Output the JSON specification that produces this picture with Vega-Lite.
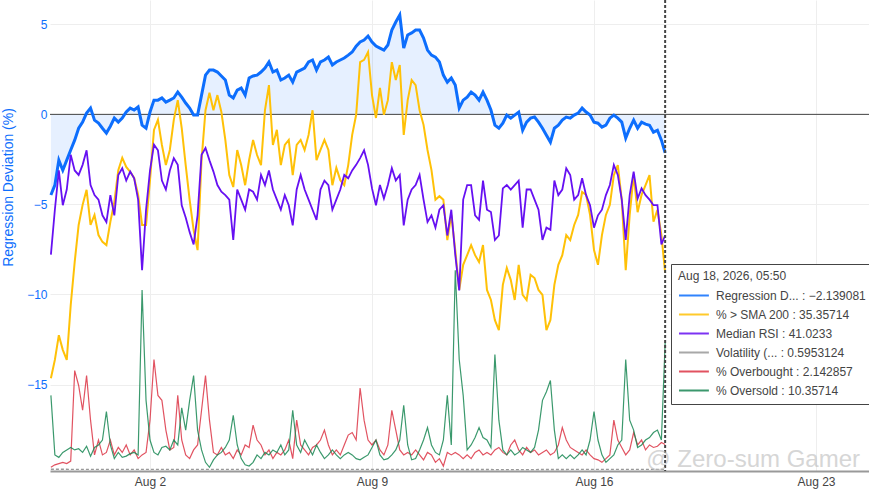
{
"$schema":"https://vega.github.io/schema/vega-lite/v6.json",
"width":819,"height":471,"autosize":{"type":"none"},
"padding":{"left":50,"top":0,"right":0,"bottom":19},
"background":"white",
"config":{"font":"Liberation Sans","view":{"stroke":null}},
"data":{"values":[{"note":"annotations"}]},
"datasets":{
"main":[
{"t":"2026-07-29T21:00","b":-4.48,"s":12.3,"m":39.3,"o":0.3,"u":6.1},
{"t":"2026-07-30T00:00","b":-3.93,"s":16.3,"m":43.3,"o":0.5,"u":1.3},
{"t":"2026-07-30T03:00","b":-2.54,"s":21.7,"m":46.8,"o":0.6,"u":1.1},
{"t":"2026-07-30T06:00","b":-3.1,"s":18.5,"m":43.7,"o":0.7,"u":1.5},
{"t":"2026-07-30T09:00","b":-2.54,"s":16.3,"m":45.1,"o":0.6,"u":1.7},
{"t":"2026-07-30T12:00","b":-1.98,"s":28.3,"m":48.2,"o":0.8,"u":1.9},
{"t":"2026-07-30T15:00","b":-1.43,"s":37.7,"m":46.8,"o":8.1,"u":1.7},
{"t":"2026-07-30T18:00","b":-0.77,"s":45.8,"m":46.4,"o":6.9,"u":1.8},
{"t":"2026-07-30T21:00","b":-0.43,"s":50.2,"m":47.3,"o":4.9,"u":1.5},
{"t":"2026-07-31T00:00","b":0.07,"s":53.5,"m":48.6,"o":7.7,"u":2.0},
{"t":"2026-07-31T03:00","b":0.35,"s":45.8,"m":45.5,"o":4.1,"u":1.2},
{"t":"2026-07-31T06:00","b":-0.32,"s":48.0,"m":44.6,"o":1.3,"u":1.9},
{"t":"2026-07-31T09:00","b":-0.48,"s":43.6,"m":44.2,"o":2.5,"u":2.1},
{"t":"2026-07-31T12:00","b":-0.77,"s":42.1,"m":42.8,"o":1.3,"u":2.5},
{"t":"2026-07-31T15:00","b":-1.04,"s":41.4,"m":42.2,"o":1.5,"u":4.8},
{"t":"2026-07-31T18:00","b":-0.66,"s":46.5,"m":44.6,"o":2.5,"u":2.1},
{"t":"2026-07-31T21:00","b":-0.21,"s":50.8,"m":42.8,"o":1.3,"u":1.0},
{"t":"2026-08-01T00:00","b":-0.43,"s":57.8,"m":46.4,"o":1.9,"u":1.5},
{"t":"2026-08-01T03:00","b":-0.21,"s":60.5,"m":47.0,"o":1.5,"u":1.1},
{"t":"2026-08-01T06:00","b":0.13,"s":58.5,"m":45.9,"o":2.1,"u":1.2},
{"t":"2026-08-01T09:00","b":0.35,"s":57.4,"m":46.7,"o":1.3,"u":1.4},
{"t":"2026-08-01T12:00","b":0.24,"s":56.1,"m":46.1,"o":1.7,"u":1.5},
{"t":"2026-08-01T15:00","b":0.41,"s":52.4,"m":44.2,"o":1.0,"u":1.3},
{"t":"2026-08-01T18:00","b":-0.6,"s":45.8,"m":37.9,"o":1.3,"u":14.6},
{"t":"2026-08-01T21:00","b":-0.77,"s":45.8,"m":43.3,"o":1.5,"u":5.7},
{"t":"2026-08-02T00:00","b":0.13,"s":55.6,"m":46.8,"o":4.1,"u":2.5},
{"t":"2026-08-02T03:00","b":0.79,"s":66.6,"m":49.1,"o":9.0,"u":1.5},
{"t":"2026-08-02T06:00","b":0.79,"s":68.8,"m":48.6,"o":6.1,"u":1.3},
{"t":"2026-08-02T09:00","b":0.91,"s":63.3,"m":45.9,"o":5.7,"u":1.9},
{"t":"2026-08-02T12:00","b":0.68,"s":58.9,"m":45.1,"o":3.3,"u":2.0},
{"t":"2026-08-02T15:00","b":0.79,"s":62.2,"m":46.8,"o":1.7,"u":1.7},
{"t":"2026-08-02T18:00","b":0.91,"s":68.8,"m":47.9,"o":1.9,"u":2.5},
{"t":"2026-08-02T21:00","b":1.24,"s":73.1,"m":47.3,"o":6.1,"u":2.1},
{"t":"2026-08-03T00:00","b":0.96,"s":67.0,"m":43.7,"o":2.5,"u":5.1},
{"t":"2026-08-03T03:00","b":0.63,"s":58.9,"m":42.6,"o":1.3,"u":3.3},
{"t":"2026-08-03T06:00","b":0.35,"s":51.3,"m":41.3,"o":1.0,"u":5.7},
{"t":"2026-08-03T09:00","b":-0.04,"s":44.7,"m":40.2,"o":1.7,"u":7.7},
{"t":"2026-08-03T12:00","b":-0.04,"s":40.3,"m":42.8,"o":2.1,"u":3.3},
{"t":"2026-08-03T15:00","b":1.07,"s":60.0,"m":48.2,"o":4.9,"u":1.7},
{"t":"2026-08-03T18:00","b":2.18,"s":70.9,"m":48.8,"o":7.7,"u":0.7},
{"t":"2026-08-03T21:00","b":2.46,"s":74.7,"m":47.7,"o":4.1,"u":0.3},
{"t":"2026-08-04T00:00","b":2.46,"s":70.9,"m":46.7,"o":1.5,"u":0.9},
{"t":"2026-08-04T03:00","b":2.35,"s":74.2,"m":45.5,"o":1.3,"u":1.3},
{"t":"2026-08-04T06:00","b":2.13,"s":70.5,"m":44.9,"o":1.9,"u":1.5},
{"t":"2026-08-04T09:00","b":1.91,"s":64.4,"m":44.6,"o":1.3,"u":1.9},
{"t":"2026-08-04T12:00","b":1.07,"s":56.7,"m":44.2,"o":1.5,"u":2.5},
{"t":"2026-08-04T15:00","b":0.91,"s":54.1,"m":40.6,"o":1.0,"u":4.5},
{"t":"2026-08-04T18:00","b":1.35,"s":62.2,"m":45.1,"o":1.7,"u":2.1},
{"t":"2026-08-04T21:00","b":1.46,"s":58.9,"m":44.2,"o":1.3,"u":1.0},
{"t":"2026-08-05T00:00","b":1.07,"s":54.5,"m":43.3,"o":2.1,"u":0.5},
{"t":"2026-08-05T03:00","b":2.02,"s":60.0,"m":45.1,"o":1.9,"u":0.4},
{"t":"2026-08-05T06:00","b":2.13,"s":64.4,"m":44.9,"o":3.7,"u":0.7},
{"t":"2026-08-05T09:00","b":2.18,"s":61.1,"m":44.2,"o":2.5,"u":1.3},
{"t":"2026-08-05T12:00","b":2.35,"s":58.9,"m":46.4,"o":2.1,"u":1.0},
{"t":"2026-08-05T15:00","b":2.57,"s":70.9,"m":45.5,"o":1.3,"u":1.5},
{"t":"2026-08-05T18:00","b":2.91,"s":76.4,"m":46.8,"o":1.7,"u":1.3},
{"t":"2026-08-05T21:00","b":2.35,"s":63.3,"m":45.1,"o":1.0,"u":1.7},
{"t":"2026-08-06T00:00","b":2.46,"s":66.6,"m":44.2,"o":1.5,"u":1.5},
{"t":"2026-08-06T03:00","b":1.91,"s":58.9,"m":43.3,"o":1.3,"u":2.1},
{"t":"2026-08-06T06:00","b":2.02,"s":63.3,"m":44.6,"o":1.7,"u":1.3},
{"t":"2026-08-06T09:00","b":2.18,"s":64.4,"m":43.7,"o":2.5,"u":1.7},
{"t":"2026-08-06T12:00","b":1.79,"s":56.7,"m":41.9,"o":1.0,"u":4.9},
{"t":"2026-08-06T15:00","b":2.35,"s":63.3,"m":45.1,"o":4.1,"u":2.1},
{"t":"2026-08-06T18:00","b":2.46,"s":64.4,"m":46.4,"o":2.1,"u":1.5},
{"t":"2026-08-06T21:00","b":2.57,"s":62.2,"m":45.1,"o":1.7,"u":2.5},
{"t":"2026-08-07T00:00","b":2.91,"s":65.5,"m":44.2,"o":1.3,"u":1.9},
{"t":"2026-08-07T03:00","b":3.02,"s":70.9,"m":43.3,"o":1.9,"u":1.3},
{"t":"2026-08-07T06:00","b":2.46,"s":60.0,"m":42.4,"o":2.1,"u":2.1},
{"t":"2026-08-07T09:00","b":2.91,"s":62.2,"m":45.1,"o":2.5,"u":1.5},
{"t":"2026-08-07T12:00","b":3.02,"s":64.4,"m":45.9,"o":3.3,"u":1.0},
{"t":"2026-08-07T15:00","b":3.18,"s":62.2,"m":45.5,"o":2.1,"u":1.3},
{"t":"2026-08-07T18:00","b":2.74,"s":54.5,"m":43.3,"o":1.3,"u":1.7},
{"t":"2026-08-07T21:00","b":2.91,"s":58.3,"m":44.2,"o":1.7,"u":1.3},
{"t":"2026-08-08T00:00","b":3.02,"s":55.6,"m":45.1,"o":1.3,"u":1.0},
{"t":"2026-08-08T03:00","b":3.13,"s":54.5,"m":46.4,"o":2.1,"u":1.3},
{"t":"2026-08-08T06:00","b":3.29,"s":58.9,"m":46.1,"o":2.9,"u":1.5},
{"t":"2026-08-08T09:00","b":3.46,"s":65.5,"m":46.8,"o":3.1,"u":1.3},
{"t":"2026-08-08T12:00","b":3.79,"s":69.9,"m":47.3,"o":2.5,"u":1.0},
{"t":"2026-08-08T15:00","b":4.02,"s":81.4,"m":47.9,"o":6.7,"u":0.9},
{"t":"2026-08-08T18:00","b":4.13,"s":81.9,"m":48.6,"o":4.1,"u":1.1},
{"t":"2026-08-08T21:00","b":4.35,"s":83.6,"m":47.3,"o":2.5,"u":1.3},
{"t":"2026-08-09T00:00","b":4.02,"s":74.2,"m":45.2,"o":2.1,"u":1.9},
{"t":"2026-08-09T03:00","b":3.79,"s":69.2,"m":43.7,"o":2.5,"u":2.5},
{"t":"2026-08-09T06:00","b":3.68,"s":75.8,"m":45.5,"o":1.7,"u":1.3},
{"t":"2026-08-09T09:00","b":3.57,"s":69.9,"m":44.3,"o":1.3,"u":0.9},
{"t":"2026-08-09T12:00","b":3.85,"s":73.1,"m":45.5,"o":2.1,"u":1.0},
{"t":"2026-08-09T15:00","b":4.68,"s":81.4,"m":47.0,"o":4.9,"u":1.3},
{"t":"2026-08-09T18:00","b":5.13,"s":77.5,"m":45.9,"o":3.3,"u":1.7},
{"t":"2026-08-09T21:00","b":5.52,"s":80.8,"m":46.4,"o":1.7,"u":2.5},
{"t":"2026-08-10T00:00","b":3.68,"s":65.5,"m":41.9,"o":1.3,"u":5.3},
{"t":"2026-08-10T03:00","b":4.41,"s":73.1,"m":44.2,"o":1.5,"u":2.1},
{"t":"2026-08-10T06:00","b":4.52,"s":77.5,"m":45.1,"o":1.3,"u":0.9},
{"t":"2026-08-10T09:00","b":4.68,"s":76.4,"m":45.5,"o":1.7,"u":1.0},
{"t":"2026-08-10T12:00","b":4.68,"s":70.9,"m":46.4,"o":1.3,"u":1.7},
{"t":"2026-08-10T15:00","b":4.24,"s":67.7,"m":44.2,"o":0.9,"u":2.5},
{"t":"2026-08-10T18:00","b":3.57,"s":62.2,"m":42.2,"o":1.5,"u":3.5},
{"t":"2026-08-10T21:00","b":3.29,"s":57.8,"m":42.8,"o":1.3,"u":2.1},
{"t":"2026-08-11T00:00","b":3.18,"s":51.3,"m":41.7,"o":0.7,"u":1.5},
{"t":"2026-08-11T03:00","b":2.91,"s":52.1,"m":43.3,"o":1.0,"u":1.3},
{"t":"2026-08-11T06:00","b":2.18,"s":51.3,"m":43.7,"o":0.4,"u":2.5},
{"t":"2026-08-11T09:00","b":1.79,"s":42.5,"m":41.0,"o":1.5,"u":6.1},
{"t":"2026-08-11T12:00","b":2.02,"s":48.0,"m":43.3,"o":1.3,"u":2.1},
{"t":"2026-08-11T15:00","b":1.63,"s":40.3,"m":39.3,"o":1.5,"u":16.2},
{"t":"2026-08-11T18:00","b":0.35,"s":31.6,"m":36.1,"o":1.3,"u":9.0},
{"t":"2026-08-11T21:00","b":0.79,"s":37.1,"m":44.2,"o":1.0,"u":6.1},
{"t":"2026-08-12T00:00","b":0.96,"s":39.2,"m":45.5,"o":1.3,"u":1.7},
{"t":"2026-08-12T03:00","b":1.24,"s":41.4,"m":45.5,"o":1.0,"u":2.1},
{"t":"2026-08-12T06:00","b":1.07,"s":39.2,"m":42.8,"o":1.5,"u":2.7},
{"t":"2026-08-12T09:00","b":0.79,"s":37.7,"m":42.4,"o":1.7,"u":3.5},
{"t":"2026-08-12T12:00","b":1.24,"s":41.4,"m":45.9,"o":1.3,"u":2.7},
{"t":"2026-08-12T15:00","b":0.79,"s":31.6,"m":43.3,"o":1.5,"u":2.5},
{"t":"2026-08-12T18:00","b":0.24,"s":29.4,"m":43.1,"o":1.3,"u":1.9},
{"t":"2026-08-12T21:00","b":-0.6,"s":25.0,"m":40.6,"o":1.7,"u":9.4},
{"t":"2026-08-13T00:00","b":-0.77,"s":22.8,"m":41.0,"o":1.9,"u":4.1},
{"t":"2026-08-13T03:00","b":-0.49,"s":32.7,"m":45.2,"o":1.5,"u":1.7},
{"t":"2026-08-13T06:00","b":-0.04,"s":36.4,"m":45.5,"o":1.3,"u":1.3},
{"t":"2026-08-13T09:00","b":-0.21,"s":33.8,"m":45.1,"o":2.1,"u":1.7},
{"t":"2026-08-13T12:00","b":-0.04,"s":29.4,"m":45.5,"o":2.5,"u":1.3},
{"t":"2026-08-13T15:00","b":0.13,"s":37.1,"m":45.9,"o":1.7,"u":1.5},
{"t":"2026-08-13T18:00","b":-0.88,"s":30.5,"m":41.7,"o":1.3,"u":1.9},
{"t":"2026-08-13T21:00","b":-0.43,"s":29.4,"m":45.1,"o":1.9,"u":1.7},
{"t":"2026-08-14T00:00","b":-0.21,"s":34.9,"m":45.1,"o":1.5,"u":1.5},
{"t":"2026-08-14T03:00","b":-0.15,"s":34.2,"m":44.2,"o":1.7,"u":1.9},
{"t":"2026-08-14T06:00","b":-0.43,"s":31.6,"m":43.3,"o":1.3,"u":3.3},
{"t":"2026-08-14T09:00","b":-0.77,"s":30.5,"m":40.6,"o":1.5,"u":5.7},
{"t":"2026-08-14T12:00","b":-1.16,"s":22.8,"m":41.7,"o":1.7,"u":6.4},
{"t":"2026-08-14T15:00","b":-1.54,"s":25.0,"m":41.5,"o":1.3,"u":7.3},
{"t":"2026-08-14T18:00","b":-0.77,"s":32.7,"m":45.9,"o":1.5,"u":3.3},
{"t":"2026-08-14T21:00","b":-0.6,"s":37.1,"m":44.6,"o":2.1,"u":1.0},
{"t":"2026-08-15T00:00","b":-0.32,"s":39.2,"m":45.1,"o":3.5,"u":1.3},
{"t":"2026-08-15T03:00","b":-0.15,"s":43.6,"m":47.0,"o":2.5,"u":1.0},
{"t":"2026-08-15T06:00","b":-0.21,"s":42.5,"m":46.4,"o":1.9,"u":1.3},
{"t":"2026-08-15T09:00","b":-0.04,"s":45.8,"m":44.2,"o":1.7,"u":1.0},
{"t":"2026-08-15T12:00","b":0.07,"s":48.0,"m":44.6,"o":1.5,"u":1.3},
{"t":"2026-08-15T15:00","b":0.35,"s":53.0,"m":46.1,"o":1.3,"u":1.7},
{"t":"2026-08-15T18:00","b":0.13,"s":52.4,"m":44.6,"o":1.7,"u":1.3},
{"t":"2026-08-15T21:00","b":-0.04,"s":48.0,"m":43.7,"o":1.3,"u":2.5},
{"t":"2026-08-16T00:00","b":-0.43,"s":40.3,"m":41.7,"o":1.0,"u":4.8},
{"t":"2026-08-16T03:00","b":-0.49,"s":37.1,"m":42.8,"o":0.9,"u":2.5},
{"t":"2026-08-16T06:00","b":-0.71,"s":43.6,"m":43.3,"o":0.7,"u":1.3},
{"t":"2026-08-16T09:00","b":-0.6,"s":48.0,"m":44.6,"o":1.0,"u":0.7},
{"t":"2026-08-16T12:00","b":-0.21,"s":50.2,"m":45.5,"o":1.3,"u":1.0},
{"t":"2026-08-16T15:00","b":-0.04,"s":56.7,"m":47.3,"o":4.1,"u":1.3},
{"t":"2026-08-16T18:00","b":-0.21,"s":58.9,"m":46.4,"o":2.5,"u":2.1},
{"t":"2026-08-16T21:00","b":-0.43,"s":51.3,"m":44.2,"o":1.9,"u":2.5},
{"t":"2026-08-17T00:00","b":-1.32,"s":35.9,"m":40.6,"o":1.3,"u":9.0},
{"t":"2026-08-17T03:00","b":-0.77,"s":48.0,"m":44.6,"o":1.7,"u":4.1},
{"t":"2026-08-17T06:00","b":-0.32,"s":56.7,"m":46.7,"o":3.1,"u":3.3},
{"t":"2026-08-17T09:00","b":-0.77,"s":48.6,"m":44.3,"o":2.1,"u":1.9},
{"t":"2026-08-17T12:00","b":-0.43,"s":52.4,"m":45.2,"o":2.5,"u":2.1},
{"t":"2026-08-17T15:00","b":-0.54,"s":54.5,"m":44.6,"o":1.7,"u":2.5},
{"t":"2026-08-17T18:00","b":-0.6,"s":56.7,"m":44.2,"o":2.1,"u":2.7},
{"t":"2026-08-17T21:00","b":-0.99,"s":46.5,"m":43.7,"o":1.9,"u":3.1},
{"t":"2026-08-18T00:00","b":-0.88,"s":49.1,"m":43.7,"o":2.0,"u":3.3},
{"t":"2026-08-18T03:00","b":-1.43,"s":43.6,"m":40.2,"o":2.3,"u":2.5},
{"t":"2026-08-18T05:50","b":-2.139081,"s":35.35714,"m":41.0233,"o":2.142857,"u":10.35714}
],
"vol":[
{"t":"2026-07-29T21:00","v":0.61},
{"t":"2026-08-01T12:00","v":0.6},
{"t":"2026-08-04T12:00","v":0.6},
{"t":"2026-08-07T12:00","v":0.61},
{"t":"2026-08-10T12:00","v":0.6},
{"t":"2026-08-13T12:00","v":0.59},
{"t":"2026-08-16T12:00","v":0.6},
{"t":"2026-08-18T05:50","v":0.5953124}
]
},
"layer":[
{"data":{"name":"main"},
 "mark":{"type":"area","color":"#0d6efd","opacity":0.1},
 "encoding":{
  "x":{"field":"t","type":"temporal","title":null,
   "scale":{"domain":[{"year":2026,"month":7,"date":29,"hours":20,"minutes":19},{"year":2026,"month":8,"date":24,"hours":16,"minutes":6}]},
   "axis":{"values":[{"year":2026,"month":8,"date":2},{"year":2026,"month":8,"date":9},{"year":2026,"month":8,"date":16},{"year":2026,"month":8,"date":23}],
    "format":"%b %-d","grid":true,"gridColor":"#eeeeee","ticks":false,"domainColor":"#999999","domainWidth":2,
    "labelColor":"#444444","labelFontSize":12,"labelPadding":5}},
  "y":{"field":"b","type":"quantitative","scale":{"domain":[-19.8,6.35],"nice":false,"zero":false},
   "axis":{"values":[-15,-10,-5,0,5],"title":"Regression Deviation (%)","titleColor":"#0d6efd","titleFontSize":14,"titleFontWeight":"normal",
    "titleX":-42,"titleY":187,"titleAlign":"center","titleBaseline":"middle","titleAngle":270,
    "labelColor":"#0d6efd","labelFontSize":12,"labelPadding":3,"domain":false,"ticks":false,"grid":true,"gridColor":"#eeeeee"}},
  "y2":{"datum":0}
 }},
{"mark":{"type":"rule","color":"#444444","strokeWidth":1},
 "encoding":{"y":{"datum":0,"type":"quantitative","scale":{"domain":[-19.8,6.35],"nice":false,"zero":false},"axis":null}}},
{"data":{"name":"main"},
 "mark":{"type":"line","strokeWidth":3},
 "encoding":{
  "x":{"field":"t","type":"temporal","title":null},
  "y":{"field":"b","type":"quantitative","scale":{"domain":[-19.8,6.35],"nice":false,"zero":false},"axis":null},
  "color":{"datum":"Regression D... : \u22122.139081","type":"nominal",
   "scale":{"domain":["Regression D... : \u22122.139081","% > SMA 200 : 35.35714","Median RSI : 41.0233","Volatility (... : 0.5953124","% Overbought : 2.142857","% Oversold : 10.35714"],
            "range":["#0d6efd","#ffc107","#6610f2","#999999","#dc3545","#198754"]},
   "legend":{"orient":"none","legendX":621,"legendY":264,"title":"Aug 18, 2026, 05:50","titleFontWeight":"normal","titleFontSize":12,"titleColor":"#444444","titlePadding":5,
    "labelFontSize":12,"labelColor":"#444444","labelLimit":300,"symbolType":"M-1,0H3.6","symbolSize":169,"symbolStrokeWidth":2,"labelOffset":23,
    "rowPadding":5,"padding":7,"fillColor":"white","strokeColor":"#444444","cornerRadius":0}}
 }},
{"data":{"name":"main"},
 "mark":{"type":"line","strokeWidth":2},
 "encoding":{
  "x":{"field":"t","type":"temporal","title":null},
  "y":{"field":"s","type":"quantitative","scale":{"domain":[-8,95],"nice":false,"zero":false},"axis":null},
  "color":{"datum":"% > SMA 200 : 35.35714","type":"nominal"}
 }},
{"data":{"name":"main"},
 "mark":{"type":"line","strokeWidth":1.8},
 "encoding":{
  "x":{"field":"t","type":"temporal","title":null},
  "y":{"field":"m","type":"quantitative","scale":{"domain":[20,62],"nice":false,"zero":false},"axis":null},
  "color":{"datum":"Median RSI : 41.0233","type":"nominal"}
 }},
{"data":{"name":"vol"},
 "mark":{"type":"line","strokeWidth":1.3,"strokeDash":[3,2]},
 "encoding":{
  "x":{"field":"t","type":"temporal","title":null},
  "y":{"field":"v","type":"quantitative","scale":{"domain":[0.5,30],"nice":false,"zero":false},"axis":null},
  "color":{"datum":"Volatility (... : 0.5953124","type":"nominal"}
 }},
{"data":{"name":"main"},
 "mark":{"type":"line","strokeWidth":1.2,"opacity":0.85},
 "encoding":{
  "x":{"field":"t","type":"temporal","title":null},
  "y":{"field":"o","type":"quantitative","scale":{"domain":[0,38],"nice":false,"zero":false},"axis":null},
  "color":{"datum":"% Overbought : 2.142857","type":"nominal"}
 }},
{"data":{"name":"main"},
 "mark":{"type":"line","strokeWidth":1.2,"opacity":0.85},
 "encoding":{
  "x":{"field":"t","type":"temporal","title":null},
  "y":{"field":"u","type":"quantitative","scale":{"domain":[0,38],"nice":false,"zero":false},"axis":null},
  "color":{"datum":"% Oversold : 10.35714","type":"nominal"}
 }},
{"mark":{"type":"rule","color":"#444444","strokeWidth":2,"strokeDash":[3,2]},
 "encoding":{"x":{"datum":{"year":2026,"month":8,"date":18,"hours":5,"minutes":50},"type":"temporal"}}},
{"mark":{"type":"text","text":"@ Zero-sum Gamer","align":"right","baseline":"middle","fontSize":24,"color":"#bbbbbb","opacity":0.6},
 "encoding":{
  "x":{"datum":{"year":2026,"month":8,"date":24,"hours":9,"minutes":18},"type":"temporal"},
  "y":{"datum":-19.2,"type":"quantitative","scale":{"domain":[-19.8,6.35],"nice":false,"zero":false},"axis":null}
 }}
],
"resolve":{"scale":{"y":"independent"}}
}
